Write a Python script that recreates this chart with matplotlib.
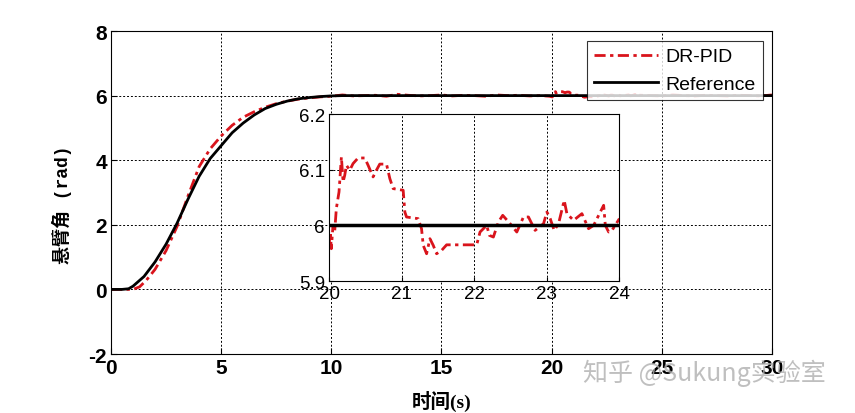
import numpy as np
import matplotlib.pyplot as plt

plt.rcParams['font.family'] = ['Liberation Sans', 'Noto Sans CJK SC', 'DejaVu Sans']
plt.rcParams['axes.unicode_minus'] = False

# Reference trajectory
t_ref = [0, 0.5, 0.8, 1.0, 1.5, 2.0, 2.5, 3.0, 3.5, 4.0, 4.5, 5.0, 5.5, 6.0, 6.5,
         7.0, 7.5, 8.0, 8.5, 9.0, 9.5, 10.0, 10.5, 30]
y_ref = [0, 0, 0.02, 0.1, 0.4, 0.85, 1.4, 2.05, 2.8, 3.5, 4.05, 4.45, 4.85, 5.15, 5.4,
         5.6, 5.73, 5.83, 5.9, 5.94, 5.97, 5.99, 6.0, 6.0]

# DR-PID response (start-up and settling)
t_rise = [0, 0.5, 1.0, 1.3, 1.6, 2.0, 2.5, 3.0, 3.5, 4.0, 4.5, 5.0, 5.5, 6.0, 6.5,
          7.0, 7.5, 8.0, 8.5, 9.0, 9.5, 10.0, 10.5, 11.0, 11.5, 12.0, 12.5, 13.0,
          13.5, 14.0, 14.5, 15.0, 15.5, 16.0, 16.5, 17.0, 17.5, 18.0, 18.5, 19.0,
          19.5, 19.9]
y_rise = [0, 0, 0.0, 0.08, 0.28, 0.62, 1.2, 1.95, 2.9, 3.8, 4.35, 4.75, 5.08, 5.33, 5.5,
          5.64, 5.75, 5.83, 5.89, 5.93, 5.96, 5.98, 6.02, 5.99, 6.0, 6.01, 5.98, 6.04,
          6.01, 5.99, 6.0, 6.02, 5.99, 6.01, 6.0, 5.98, 6.02, 6.0, 6.01, 5.99,
          6.0, 5.98]

# DR-PID response, 20 s to 24 s (inset window)
t_zoom = [20.00, 20.018, 20.032, 20.055, 20.078, 20.101, 20.138, 20.171, 20.194, 20.217,
          20.240, 20.286, 20.332, 20.401, 20.493, 20.539, 20.608, 20.654, 20.700, 20.793,
          20.839, 20.885, 21.023, 21.046, 21.069, 21.230, 21.276, 21.300, 21.346, 21.392,
          21.438, 21.484, 21.553, 21.622, 22.037, 22.083, 22.175, 22.212, 22.267, 22.336,
          22.396, 22.498, 22.590, 22.682, 22.751, 22.843, 22.959, 23.005, 23.051, 23.106,
          23.166, 23.244, 23.281, 23.373, 23.488, 23.580, 23.650, 23.719, 23.788, 23.811,
          23.857, 23.903, 24.005]
y_zoom = [5.964, 5.988, 5.958, 6.000, 5.988, 6.030, 6.060, 6.123, 6.078, 6.090,
          6.108, 6.099, 6.111, 6.121, 6.121, 6.108, 6.087, 6.099, 6.110, 6.110,
          6.084, 6.066, 6.063, 6.024, 6.015, 6.012, 5.994, 5.964, 5.949, 5.976,
          5.964, 5.949, 5.955, 5.965, 5.965, 5.988, 6.000, 5.982, 5.979, 6.006,
          6.018, 6.003, 5.988, 6.015, 6.015, 5.991, 6.003, 6.024, 6.012, 5.991,
          6.003, 6.045, 6.021, 6.009, 6.021, 5.994, 6.000, 6.018, 6.036, 6.000,
          5.988, 5.991, 6.012]

# DR-PID response after 24 s
t_tail = [24.5, 25.0, 25.5, 26.0, 26.5, 27.0, 27.5, 28.0, 28.5, 29.0, 29.5, 30.0]
y_tail = [6.0, 5.99, 6.02, 6.0, 5.99, 6.01, 6.0, 5.99, 6.01, 6.0, 5.99, 6.02]

t_pid = t_rise + t_zoom + t_tail
y_pid = y_rise + y_zoom + y_tail

red = '#d9141c'
dashdot = (0, (4, 1.6, 1.2, 1.6))

fig = plt.figure(figsize=(8.55, 4.14), dpi=100)
ax = fig.add_axes([0.1298, 0.1425, 0.7731, 0.7802])

ax.plot(t_pid, y_pid, color=red, linestyle=dashdot, linewidth=2, label='DR-PID')
ax.plot(t_ref, y_ref, color='black', linewidth=2, label='Reference')
ax.set_xlim(0, 30)
ax.set_ylim(-2, 8)
ax.set_xticks(np.arange(0, 31, 5))
ax.set_yticks(np.arange(-2, 9, 2))
ax.tick_params(direction='in', labelsize=15, length=4, pad=3)
for lab in ax.get_xticklabels() + ax.get_yticklabels():
    lab.set_fontweight('bold')
ax.grid(True, color='black', linestyle=(0, (2, 2)), linewidth=0.7)
ax.set_xlabel('时间(s)', fontsize=14, fontweight='bold',
              family=['Liberation Serif', 'Noto Sans CJK SC'])
ax.xaxis.set_label_coords(0.5, -0.112)
ax.set_ylabel('悬臂角 (rad)', fontsize=13, fontweight='bold',
              family=['Liberation Mono', 'Noto Sans CJK SC'])
ax.yaxis.set_label_coords(-0.059, 0.464)
leg = ax.legend(loc='upper right', fontsize=14, frameon=True, fancybox=False,
                edgecolor='black', borderpad=0.35, handlelength=3.3, borderaxespad=0,
                bbox_to_anchor=(0.986, 0.969), labelspacing=0.5, handletextpad=0.4)
leg.get_frame().set_linewidth(0.8)

# inset
axin = fig.add_axes([0.3848, 0.3188, 0.3392, 0.4034])
axin.plot(t_zoom, y_zoom, color=red, linestyle=dashdot, linewidth=2)
axin.plot([20, 24], [6, 6], color='black', linewidth=2.5)
axin.set_xlim(20, 24)
axin.set_ylim(5.9, 6.2)
axin.set_xticks([20, 21, 22, 23, 24])
axin.set_yticks([5.9, 6.0, 6.1, 6.2])
axin.set_yticklabels(['5.9', '6', '6.1', '6.2'])
axin.tick_params(direction='in', labelsize=13.5, length=3, pad=3)
axin.grid(True, color='black', linestyle=(0, (2, 2)), linewidth=0.7)

fig.text(0.682, 0.098, '知乎 @Sukung实验室', fontsize=18, color='#b0b0b0', alpha=0.8,
         family=['Noto Sans CJK SC', 'DejaVu Sans'], va='center')

fig.savefig('out.png', dpi=100)
